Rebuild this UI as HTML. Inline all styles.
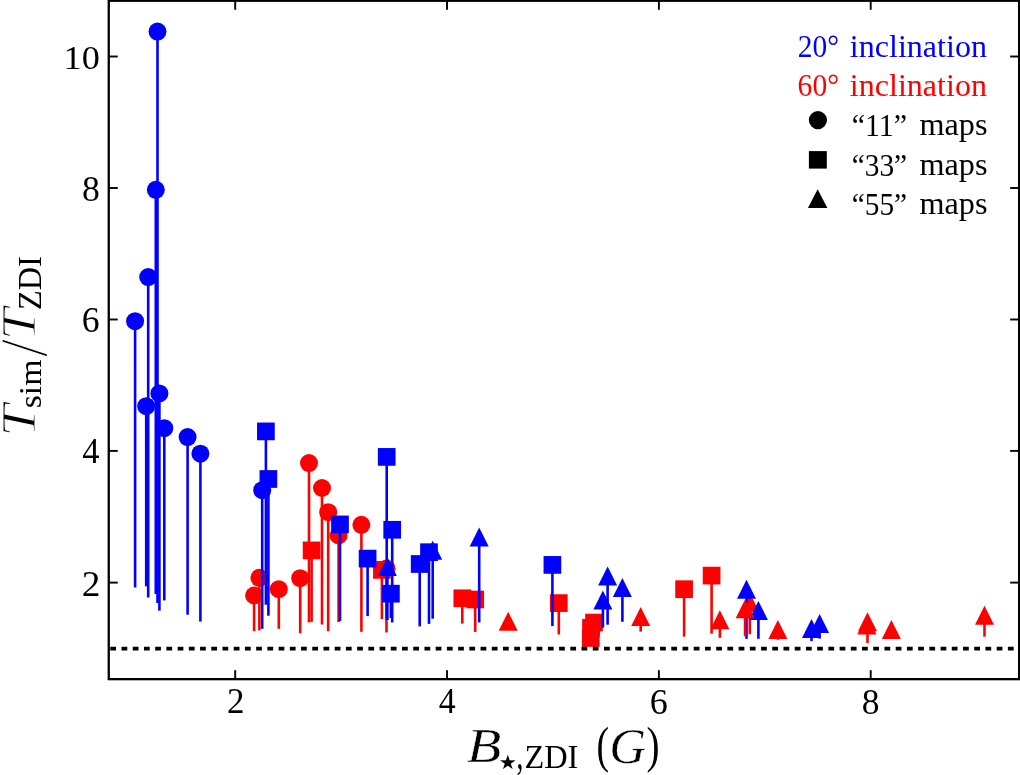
<!DOCTYPE html>
<html><head><meta charset="utf-8"><title>T_sim/T_ZDI vs B_ZDI</title>
<style>
html,body{margin:0;padding:0;background:#fff;}
svg{display:block;}
text{font-family:"Liberation Serif","DejaVu Serif",serif;}
</style></head><body>
<svg width="1020" height="775" viewBox="0 0 1020 775">
<rect width="1020" height="775" fill="#fff"/>
<g id="series">
<line x1="254.1" y1="595.5" x2="254.1" y2="631.2" stroke="#ff0000" stroke-width="2.6"/><circle cx="254.1" cy="595.5" r="9.0" fill="#ff0000"/>
<line x1="259.4" y1="577.8" x2="259.4" y2="630.4" stroke="#ff0000" stroke-width="2.6"/><circle cx="259.4" cy="577.8" r="9.0" fill="#ff0000"/>
<line x1="278.8" y1="589.2" x2="278.8" y2="628.8" stroke="#ff0000" stroke-width="2.6"/><circle cx="278.8" cy="589.2" r="9.0" fill="#ff0000"/>
<line x1="300.2" y1="578.2" x2="300.2" y2="633.3" stroke="#ff0000" stroke-width="2.6"/><circle cx="300.2" cy="578.2" r="9.0" fill="#ff0000"/>
<line x1="309.0" y1="463.1" x2="309.0" y2="622.4" stroke="#ff0000" stroke-width="2.6"/><circle cx="309.0" cy="463.1" r="9.0" fill="#ff0000"/>
<line x1="322.0" y1="488.0" x2="322.0" y2="624.5" stroke="#ff0000" stroke-width="2.6"/><circle cx="322.0" cy="488.0" r="9.0" fill="#ff0000"/>
<line x1="328.2" y1="512.2" x2="328.2" y2="631.2" stroke="#ff0000" stroke-width="2.6"/><circle cx="328.2" cy="512.2" r="9.0" fill="#ff0000"/>
<line x1="338.6" y1="535.5" x2="338.6" y2="622.0" stroke="#ff0000" stroke-width="2.6"/><circle cx="338.6" cy="535.5" r="9.0" fill="#ff0000"/>
<line x1="361.4" y1="524.8" x2="361.4" y2="631.8" stroke="#ff0000" stroke-width="2.6"/><circle cx="361.4" cy="524.8" r="9.0" fill="#ff0000"/>
<line x1="386.5" y1="568.5" x2="386.5" y2="632.5" stroke="#ff0000" stroke-width="2.6"/><circle cx="386.5" cy="568.5" r="9.0" fill="#ff0000"/>
<line x1="311.6" y1="550.4" x2="311.6" y2="621.9" stroke="#ff0000" stroke-width="2.6"/><rect x="302.75" y="541.55" width="17.7" height="17.7" fill="#ff0000"/>
<line x1="381.9" y1="569.9" x2="381.9" y2="619.0" stroke="#ff0000" stroke-width="2.6"/><rect x="373.05" y="561.05" width="17.7" height="17.7" fill="#ff0000"/>
<line x1="462.3" y1="598.3" x2="462.3" y2="623.6" stroke="#ff0000" stroke-width="2.6"/><rect x="453.45" y="589.45" width="17.7" height="17.7" fill="#ff0000"/>
<line x1="475.2" y1="599.5" x2="475.2" y2="631.9" stroke="#ff0000" stroke-width="2.6"/><rect x="466.35" y="590.65" width="17.7" height="17.7" fill="#ff0000"/>
<line x1="558.8" y1="603.1" x2="558.8" y2="634.5" stroke="#ff0000" stroke-width="2.6"/><rect x="549.95" y="594.25" width="17.7" height="17.7" fill="#ff0000"/>
<rect x="585.15" y="613.75" width="17.7" height="17.7" fill="#ff0000"/>
<rect x="582.15" y="618.95" width="17.7" height="17.7" fill="#ff0000"/>
<rect x="581.95" y="629.15" width="17.7" height="17.7" fill="#ff0000"/>
<line x1="684.1" y1="589.2" x2="684.1" y2="636.7" stroke="#ff0000" stroke-width="2.6"/><rect x="675.25" y="580.35" width="17.7" height="17.7" fill="#ff0000"/>
<line x1="711.6" y1="575.6" x2="711.6" y2="633.7" stroke="#ff0000" stroke-width="2.6"/><rect x="702.75" y="566.75" width="17.7" height="17.7" fill="#ff0000"/>
<line x1="749.8" y1="602.4" x2="749.8" y2="634.2" stroke="#ff0000" stroke-width="2.6"/><polygon points="749.80,592.90 740.30,611.90 759.30,611.90" fill="#ff0000"/>
<polygon points="508.20,611.80 498.70,630.80 517.70,630.80" fill="#ff0000"/>
<line x1="640.7" y1="616.5" x2="640.7" y2="631.6" stroke="#ff0000" stroke-width="2.6"/><polygon points="640.70,607.00 631.20,626.00 650.20,626.00" fill="#ff0000"/>
<line x1="719.9" y1="619.7" x2="719.9" y2="637.8" stroke="#ff0000" stroke-width="2.6"/><polygon points="719.90,610.20 710.40,629.20 729.40,629.20" fill="#ff0000"/>
<line x1="777.9" y1="629.4" x2="777.9" y2="639.8" stroke="#ff0000" stroke-width="2.6"/><polygon points="777.90,619.90 768.40,638.90 787.40,638.90" fill="#ff0000"/>
<line x1="867.5" y1="621.8" x2="867.5" y2="643.0" stroke="#ff0000" stroke-width="2.6"/><polygon points="867.50,612.30 858.00,631.30 877.00,631.30" fill="#ff0000"/>
<polygon points="866.90,615.60 857.40,634.60 876.40,634.60" fill="#ff0000"/>
<polygon points="891.40,620.10 881.90,639.10 900.90,639.10" fill="#ff0000"/>
<line x1="984.5" y1="615.3" x2="984.5" y2="636.7" stroke="#ff0000" stroke-width="2.6"/><polygon points="984.50,605.80 975.00,624.80 994.00,624.80" fill="#ff0000"/>
<line x1="135.1" y1="321.2" x2="135.1" y2="587.6" stroke="#0000ff" stroke-width="2.6"/><circle cx="135.1" cy="321.2" r="9.0" fill="#0000ff"/>
<line x1="148.2" y1="277.1" x2="148.2" y2="597.6" stroke="#0000ff" stroke-width="2.6"/><circle cx="148.2" cy="277.1" r="9.0" fill="#0000ff"/>
<line x1="157.5" y1="31.6" x2="157.5" y2="603.1" stroke="#0000ff" stroke-width="2.6"/><circle cx="157.5" cy="31.6" r="9.0" fill="#0000ff"/>
<line x1="155.8" y1="189.8" x2="155.8" y2="594.1" stroke="#0000ff" stroke-width="2.6"/><circle cx="155.8" cy="189.8" r="9.0" fill="#0000ff"/>
<line x1="146.2" y1="406.2" x2="146.2" y2="586.3" stroke="#0000ff" stroke-width="2.6"/><circle cx="146.2" cy="406.2" r="9.0" fill="#0000ff"/>
<line x1="159.4" y1="393.4" x2="159.4" y2="610.6" stroke="#0000ff" stroke-width="2.6"/><circle cx="159.4" cy="393.4" r="9.0" fill="#0000ff"/>
<line x1="164.3" y1="428.2" x2="164.3" y2="600.4" stroke="#0000ff" stroke-width="2.6"/><circle cx="164.3" cy="428.2" r="9.0" fill="#0000ff"/>
<line x1="187.6" y1="437.1" x2="187.6" y2="614.7" stroke="#0000ff" stroke-width="2.6"/><circle cx="187.6" cy="437.1" r="9.0" fill="#0000ff"/>
<line x1="200.4" y1="453.7" x2="200.4" y2="621.6" stroke="#0000ff" stroke-width="2.6"/><circle cx="200.4" cy="453.7" r="9.0" fill="#0000ff"/>
<line x1="262.2" y1="490.2" x2="262.2" y2="628.8" stroke="#0000ff" stroke-width="2.6"/><circle cx="262.2" cy="490.2" r="9.0" fill="#0000ff"/>
<line x1="265.9" y1="431.4" x2="265.9" y2="604.7" stroke="#0000ff" stroke-width="2.6"/><rect x="257.05" y="422.55" width="17.7" height="17.7" fill="#0000ff"/>
<line x1="268.4" y1="479.0" x2="268.4" y2="615.7" stroke="#0000ff" stroke-width="2.6"/><rect x="259.55" y="470.15" width="17.7" height="17.7" fill="#0000ff"/>
<line x1="340.0" y1="524.4" x2="340.0" y2="621.0" stroke="#0000ff" stroke-width="2.6"/><rect x="331.15" y="515.55" width="17.7" height="17.7" fill="#0000ff"/>
<line x1="386.7" y1="456.9" x2="386.7" y2="619.6" stroke="#0000ff" stroke-width="2.6"/><rect x="377.85" y="448.05" width="17.7" height="17.7" fill="#0000ff"/>
<line x1="392.2" y1="529.8" x2="392.2" y2="622.5" stroke="#0000ff" stroke-width="2.6"/><rect x="383.35" y="520.95" width="17.7" height="17.7" fill="#0000ff"/>
<line x1="367.6" y1="558.6" x2="367.6" y2="616.1" stroke="#0000ff" stroke-width="2.6"/><rect x="358.75" y="549.75" width="17.7" height="17.7" fill="#0000ff"/>
<line x1="390.9" y1="593.7" x2="390.9" y2="618.0" stroke="#0000ff" stroke-width="2.6"/><rect x="382.05" y="584.85" width="17.7" height="17.7" fill="#0000ff"/>
<line x1="419.7" y1="564.0" x2="419.7" y2="626.4" stroke="#0000ff" stroke-width="2.6"/><rect x="410.85" y="555.15" width="17.7" height="17.7" fill="#0000ff"/>
<line x1="429.0" y1="552.2" x2="429.0" y2="623.9" stroke="#0000ff" stroke-width="2.6"/><rect x="420.15" y="543.35" width="17.7" height="17.7" fill="#0000ff"/>
<line x1="552.4" y1="564.9" x2="552.4" y2="626.1" stroke="#0000ff" stroke-width="2.6"/><rect x="543.55" y="556.05" width="17.7" height="17.7" fill="#0000ff"/>
<line x1="387.4" y1="566.6" x2="387.4" y2="620.0" stroke="#0000ff" stroke-width="2.6"/><polygon points="387.40,557.10 377.90,576.10 396.90,576.10" fill="#0000ff"/>
<line x1="432.7" y1="550.3" x2="432.7" y2="618.7" stroke="#0000ff" stroke-width="2.6"/><polygon points="432.70,540.80 423.20,559.80 442.20,559.80" fill="#0000ff"/>
<line x1="479.2" y1="537.0" x2="479.2" y2="622.4" stroke="#0000ff" stroke-width="2.6"/><polygon points="479.20,527.50 469.70,546.50 488.70,546.50" fill="#0000ff"/>
<line x1="607.6" y1="575.9" x2="607.6" y2="624.7" stroke="#0000ff" stroke-width="2.6"/><polygon points="607.60,566.40 598.10,585.40 617.10,585.40" fill="#0000ff"/>
<line x1="602.9" y1="600.1" x2="602.9" y2="627.6" stroke="#0000ff" stroke-width="2.6"/><polygon points="602.90,590.60 593.40,609.60 612.40,609.60" fill="#0000ff"/>
<line x1="622.4" y1="587.5" x2="622.4" y2="621.8" stroke="#0000ff" stroke-width="2.6"/><polygon points="622.40,578.00 612.90,597.00 631.90,597.00" fill="#0000ff"/>
<line x1="746.5" y1="589.2" x2="746.5" y2="638.8" stroke="#0000ff" stroke-width="2.6"/><polygon points="746.50,579.70 737.00,598.70 756.00,598.70" fill="#0000ff"/>
<line x1="758.4" y1="610.4" x2="758.4" y2="638.8" stroke="#0000ff" stroke-width="2.6"/><polygon points="758.40,600.90 748.90,619.90 767.90,619.90" fill="#0000ff"/>
<line x1="745.1" y1="608.7" x2="745.1" y2="636.1" stroke="#ff0000" stroke-width="2.6"/><polygon points="745.10,599.20 735.60,618.20 754.60,618.20" fill="#ff0000"/>
<line x1="811.5" y1="628.4" x2="811.5" y2="641.1" stroke="#0000ff" stroke-width="2.6"/><polygon points="811.50,618.90 802.00,637.90 821.00,637.90" fill="#0000ff"/>
<line x1="819.6" y1="623.6" x2="819.6" y2="638.6" stroke="#0000ff" stroke-width="2.6"/><polygon points="819.60,614.10 810.10,633.10 829.10,633.10" fill="#0000ff"/>
</g>
<line x1="110.3" y1="648.6" x2="1014.1" y2="648.6" stroke="#000" stroke-width="3.6" stroke-dasharray="5.75 5.47"/>
<rect x="108.75" y="0.75" width="910.4" height="678.4" fill="none" stroke="#000" stroke-width="2.3"/>
<g id="ticks"><line x1="235.2" y1="679.15" x2="235.2" y2="670.15" stroke="#000" stroke-width="1.9"/><line x1="235.2" y1="0.75" x2="235.2" y2="9.75" stroke="#000" stroke-width="1.9"/><line x1="447.05" y1="679.15" x2="447.05" y2="670.15" stroke="#000" stroke-width="1.9"/><line x1="447.05" y1="0.75" x2="447.05" y2="9.75" stroke="#000" stroke-width="1.9"/><line x1="658.9" y1="679.15" x2="658.9" y2="670.15" stroke="#000" stroke-width="1.9"/><line x1="658.9" y1="0.75" x2="658.9" y2="9.75" stroke="#000" stroke-width="1.9"/><line x1="870.7" y1="679.15" x2="870.7" y2="670.15" stroke="#000" stroke-width="1.9"/><line x1="870.7" y1="0.75" x2="870.7" y2="9.75" stroke="#000" stroke-width="1.9"/><line x1="108.75" y1="56.5" x2="117.75" y2="56.5" stroke="#000" stroke-width="1.9"/><line x1="1019.15" y1="56.5" x2="1010.15" y2="56.5" stroke="#000" stroke-width="1.9"/><line x1="108.75" y1="188.0" x2="117.75" y2="188.0" stroke="#000" stroke-width="1.9"/><line x1="1019.15" y1="188.0" x2="1010.15" y2="188.0" stroke="#000" stroke-width="1.9"/><line x1="108.75" y1="319.5" x2="117.75" y2="319.5" stroke="#000" stroke-width="1.9"/><line x1="1019.15" y1="319.5" x2="1010.15" y2="319.5" stroke="#000" stroke-width="1.9"/><line x1="108.75" y1="450.9" x2="117.75" y2="450.9" stroke="#000" stroke-width="1.9"/><line x1="1019.15" y1="450.9" x2="1010.15" y2="450.9" stroke="#000" stroke-width="1.9"/><line x1="108.75" y1="582.6" x2="117.75" y2="582.6" stroke="#000" stroke-width="1.9"/><line x1="1019.15" y1="582.6" x2="1010.15" y2="582.6" stroke="#000" stroke-width="1.9"/></g>
<g id="xticklabels"><text transform="matrix(1.0000 0 0 1.0022 226.90 713.00)" font-size="35" style='font-family:"Liberation Serif","DejaVu Serif",serif;'>2</text><text transform="matrix(0.9662 0 0 1.0043 438.78 713.00)" font-size="35" style='font-family:"Liberation Serif","DejaVu Serif",serif;'>4</text><text transform="matrix(1.0333 0 0 1.0511 649.75 713.64)" font-size="35" style='font-family:"Liberation Serif","DejaVu Serif",serif;'>6</text><text transform="matrix(1.0133 0 0 1.0511 861.83 713.64)" font-size="35" style='font-family:"Liberation Serif","DejaVu Serif",serif;'>8</text></g>
<g id="yticklabels"><text transform="matrix(1.0374 0 0 0.9787 63.59 69.36)" font-size="35" style='font-family:"Liberation Serif","DejaVu Serif",serif;'>10</text><text transform="matrix(1.0200 0 0 1.0383 82.02 201.04)" font-size="35" style='font-family:"Liberation Serif","DejaVu Serif",serif;'>8</text><text transform="matrix(1.0200 0 0 1.0426 81.77 332.44)" font-size="35" style='font-family:"Liberation Serif","DejaVu Serif",serif;'>6</text><text transform="matrix(0.9846 0 0 1.0087 82.36 463.40)" font-size="35" style='font-family:"Liberation Serif","DejaVu Serif",serif;'>4</text><text transform="matrix(1.0643 0 0 1.0237 81.80 595.50)" font-size="35" style='font-family:"Liberation Serif","DejaVu Serif",serif;'>2</text></g>
<g id="xlabel"><text transform="matrix(2.0276 0 0 1.9571 488.64 780.53)" font-size="30" style='font-family:"DejaVu Sans","DejaVu Serif",sans-serif;stroke:#fff;stroke-width:1.2;'>⋆</text><text transform="matrix(1.2880 0 0 1.0842 466.73 762.00)" font-size="44" style='font-family:"Liberation Serif","DejaVu Serif",serif;font-style:italic;stroke:#fff;stroke-width:0.4;'>B</text><text transform="matrix(0.8889 0 0 1.4125 516.59 768.59)" font-size="31" style='font-family:"Liberation Serif","DejaVu Serif",serif;'>,</text><text transform="matrix(1.0449 0 0 1.0568 524.43 768.40)" font-size="31" style='font-family:"Liberation Serif","DejaVu Serif",serif;'>ZDI</text><text transform="matrix(0.7259 0 0 0.9681 596.57 762.45)" font-size="52" style='font-family:"Liberation Serif","DejaVu Serif",serif;'>(</text><text transform="matrix(1.1568 0 0 1.1521 609.32 762.71)" font-size="44" style='font-family:"Liberation Serif","DejaVu Serif",serif;font-style:italic;stroke:#fff;stroke-width:0.4;'>G</text><text transform="matrix(0.7547 0 0 0.9681 646.48 762.45)" font-size="52" style='font-family:"Liberation Serif","DejaVu Serif",serif;'>)</text></g>
<g id="ylabel"><g transform="rotate(-90)"><text transform="matrix(1.3261 0 0 1.1063 -437.04 35.05)" font-size="44" style='font-family:"Liberation Serif","DejaVu Serif",serif;font-style:italic;stroke:#fff;stroke-width:0.9;'>T</text><text transform="matrix(1.0860 0 0 1.0506 -408.26 41.14)" font-size="31" style='font-family:"Liberation Serif","DejaVu Serif",serif;'>sim</text><text transform="matrix(1.0095 0 0 1.0602 -357.01 45.60)" font-size="64" style='font-family:"Liberation Serif","DejaVu Serif",serif;stroke:#fff;stroke-width:1.2;'>/</text><text transform="matrix(1.3130 0 0 1.1063 -340.20 35.05)" font-size="44" style='font-family:"Liberation Serif","DejaVu Serif",serif;font-style:italic;stroke:#fff;stroke-width:0.9;'>T</text><text transform="matrix(1.0449 0 0 1.0667 -310.07 41.20)" font-size="31" style='font-family:"Liberation Serif","DejaVu Serif",serif;'>ZDI</text></g></g>
<g id="legend"><text transform="matrix(0.9506 0 0 1.0024 797.81 56.85)" font-size="31" style='font-family:"Liberation Serif","DejaVu Serif",serif;fill:#0000ff;'>20°</text><text transform="matrix(1.0347 0 0 0.9931 849.82 56.75)" font-size="31" style='font-family:"Liberation Serif","DejaVu Serif",serif;fill:#0000ff;'>inclination</text><text transform="matrix(0.9556 0 0 1.0169 797.61 96.25)" font-size="31" style='font-family:"Liberation Serif","DejaVu Serif",serif;fill:#ff0000;'>60°</text><text transform="matrix(1.0347 0 0 0.9931 849.82 96.15)" font-size="31" style='font-family:"Liberation Serif","DejaVu Serif",serif;fill:#ff0000;'>inclination</text><text transform="matrix(0.9651 0 0 1.0098 851.65 136.20)" font-size="31" style='font-family:"Liberation Serif","DejaVu Serif",serif;'>“11”</text><text transform="matrix(1.0394 0 0 1.0095 919.42 135.44)" font-size="31" style='font-family:"Liberation Serif","DejaVu Serif",serif;'>maps</text><text transform="matrix(0.9477 0 0 1.0169 851.68 175.65)" font-size="31" style='font-family:"Liberation Serif","DejaVu Serif",serif;'>“33”</text><text transform="matrix(1.0394 0 0 1.0095 919.42 174.74)" font-size="31" style='font-family:"Liberation Serif","DejaVu Serif",serif;'>maps</text><text transform="matrix(0.9477 0 0 1.0169 851.68 214.85)" font-size="31" style='font-family:"Liberation Serif","DejaVu Serif",serif;'>“55”</text><text transform="matrix(1.0394 0 0 1.0095 919.42 213.94)" font-size="31" style='font-family:"Liberation Serif","DejaVu Serif",serif;'>maps</text><circle cx="817.9" cy="120.1" r="9.1" fill="#000"/><rect x="808.9" y="151.1" width="17.9" height="17.5" fill="#000"/><polygon points="817.65,189.2 807.9,208.1 827.4,208.1" fill="#000"/></g>
</svg>
</body></html>
